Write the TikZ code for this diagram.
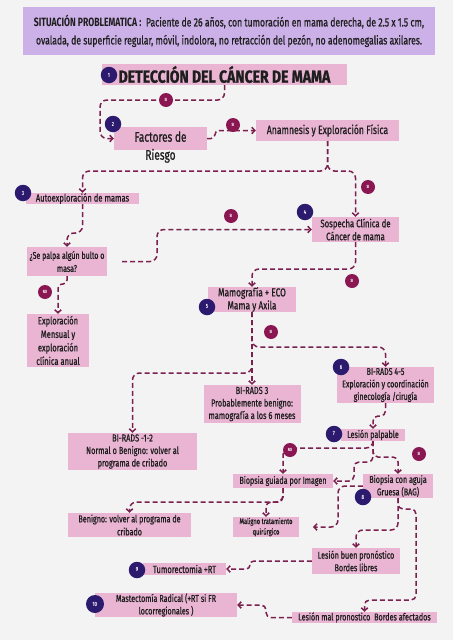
\documentclass[tikz,border=0pt]{standalone}
\usepackage{fontspec}
\setmainfont{Fira Sans}[FakeStretch=0.72, UprightFeatures={FakeBold=0.8}]
\newfontfamily\titlefont{Fira Sans}[FakeStretch=0.8, BoldFeatures={FakeBold=1.2}]
\usetikzlibrary{arrows.meta,calc}
\definecolor{bgc}{HTML}{F3F3F3}
\definecolor{hdrc}{HTML}{CBB1E7}
\definecolor{pinkc}{HTML}{E9B5D3}
\definecolor{navyc}{HTML}{2B1A6E}
\definecolor{maroonc}{HTML}{8A1652}
\definecolor{connc}{HTML}{7B1F4F}
\definecolor{txtc}{HTML}{1E1E1E}
\begin{document}
\begin{tikzpicture}[x=1pt,y=-1pt,
  pbox/.style={rectangle, fill=pinkc, inner sep=0pt, align=center, text=txtc},
  conn/.style={draw=connc, line width=1.5pt, dash pattern=on 5pt off 3pt, rounded corners=7pt,
     -{Straight Barb[length=3pt,width=6.5pt]}},
  numc/.style={circle, fill=navyc, text=white, minimum size=16.5pt, inner sep=0pt, font=\bfseries\fontsize{6}{6}\selectfont},
  sic/.style={circle, fill=maroonc, text=white, minimum size=14pt, inner sep=0pt, font=\bfseries\fontsize{4.5}{5}\selectfont},
  fa/.style={font=\fontsize{10}{12.5}\selectfont},
  fc/.style={font=\fontsize{12}{14}\selectfont}]
\useasboundingbox (0,0) rectangle (453,640);
\fill[bgc] (0,0) rectangle (453,640);

% header
\node[pbox, fill=hdrc, minimum width=412, minimum height=48, font=\fontsize{12}{18}\selectfont] (hdr) at (229,31)
 {\textbf{SITUACIÓN PROBLEMATICA :}\ \ Paciente de 26 años, con tumoración en mama derecha, de 2.5 x 1.5 cm,\\ ovalada, de superficie regular, móvil, indolora, no retracción del pezón, no adenomegalias axilares.};

% boxes
\node[pbox, minimum width=245, minimum height=21, font=\titlefont\bfseries\fontsize{17.5}{17.5}\selectfont] (title) at (224.5,74.5) {DETECCIÓN DEL CÁNCER DE MAMA};
\node[pbox, minimum width=93, minimum height=23] (fact) at (160.5,138.5) {};
\node[text=txtc, align=center, inner sep=0pt, font=\fontsize{14}{18}\selectfont] (factt) at (160.5,147) {Factores de\\Riesgo};
\node[pbox, fc, minimum width=143, minimum height=21] (anam) at (327.5,130.5) {Anamnesis y Exploración Física};
\node[pbox, font=\fontsize{10.5}{12}\selectfont, minimum width=113, minimum height=11] (auto) at (82.5,198.5) {Autoexploración de mamas};
\node[pbox, font=\fontsize{9.8}{13}\selectfont, minimum width=80, minimum height=29] (palpa) at (67,261.5) {¿Se palpa algún bulto o\\masa?};
\node[pbox, font=\fontsize{10.5}{13.5}\selectfont, minimum width=62, minimum height=53] (expl) at (58,340.5) {Exploración\\Mensual y\\exploración\\clínica anual};
\node[pbox, font=\fontsize{10.8}{13}\selectfont, minimum width=87, minimum height=25] (sosp) at (355.5,229.5) {Sospecha Clínica de\\Cáncer de mama};
\node[pbox, font=\fontsize{11.5}{13}\selectfont, minimum width=88, minimum height=25] (mamo) at (252,299.5) {Mamografía + ECO\\Mama y Axila};
\node[pbox, font=\fontsize{10.2}{12.5}\selectfont, minimum width=97, minimum height=38] (b3) at (252,404) {BI-RADS 3\\Probablemente benigno:\\mamografía a los 6 meses};
\node[pbox, font=\fontsize{10.2}{12.5}\selectfont, minimum width=129, minimum height=37] (b12) at (132.5,451.5) {BI-RADS -1-2\\Normal o Benigno: volver al\\programa de cribado};
\node[pbox, font=\fontsize{9.8}{12.5}\selectfont, minimum width=97, minimum height=36] (b45) at (385.5,385) {BI-RADS 4-5\\Exploración y coordinación\\ginecología /cirugía};
\node[pbox, fa, minimum width=64, minimum height=12] (lesp) at (373,435) {Lesión palpable};
\node[pbox, fa, minimum width=100, minimum height=14] (bg) at (283,481) {Biopsia guiada por Imagen};
\node[pbox, fa, minimum width=70, minimum height=24] (bag) at (398,486) {Biopsia con aguja\\Gruesa (BAG)};
\node[pbox, font=\fontsize{10}{13}\selectfont, minimum width=123, minimum height=24] (ben) at (129.5,525) {Benigno: volver al programa de\\cribado};
\node[pbox, font=\fontsize{8}{10.5}\selectfont, minimum width=66, minimum height=20] (mal) at (266,527) {Maligno tratamiento\\quirúrgico};
\node[pbox, fa, minimum width=88, minimum height=26] (lbuen) at (356,561) {Lesión buen pronóstico\\Bordes libres};
\node[pbox, font=\fontsize{10.5}{12}\selectfont, minimum width=83, minimum height=12] (tumo) at (184.5,569) {Tumorectomia +RT};
\node[pbox, fa, minimum width=142, minimum height=24] (mast) at (166,605) {Mastectomía Radical (+RT si FR\\locorregionales )};
\node[pbox, fa, minimum width=145, minimum height=11] (lmal) at (364.5,617.5) {Lesión mal pronostico\ \ Bordes afectados};

% connectors
\coordinate (qend) at (313,527);
\draw[conn] (title.south) -- (224.5,100) -- (100,100) -- (100,138.5) -- (fact.west);
\draw[conn, rounded corners=4pt] (fact.east) -- (215,138.5) -- (215,130.5) -- (anam.west);
\draw[conn] (anam.south) -- (327.5,171) -- (82.5,171) -- (auto.north);
\draw[conn] (anam.south) -- (327.5,171) -- (355.5,171) -- (sosp.north);
\draw[conn] (auto.south) -- (82.5,233) -- (67,233) -- (palpa.north);
\draw[conn] ($(palpa.east)+(15,0)$) -- (157,261.5) -- (157,229.5) -- (sosp.west);
\draw[conn, rounded corners=4pt] (palpa.south) -- (67,284) -- (58,284) -- (expl.north);
\draw[conn] (sosp.south) -- (355.5,269) -- (252,269) -- (mamo.north);
\draw[conn] (mamo.south) -- (252,347) -- (385.5,347) -- (b45.north);
\draw[conn] (mamo.south) -- (b3.north);
\draw[conn] (mamo.south) -- (252,373) -- (132.5,373) -- (b12.north);
\draw[conn, rounded corners=5pt] (b45.south) -- (385.5,416) -- (373,416) -- (lesp.north);
\draw[conn] (lesp.south) -- (373,448) -- (283,448) -- (bg.north);
\draw[conn, rounded corners=5pt] (lesp.south) -- (373,457) -- (398,457) -- (bag.north);
\draw[conn, rounded corners=5pt] (lesp.south) -- (373,462) -- (354,462) -- (354,481) -- (bg.east);
\draw[conn] (bg.south) -- (283,502) -- (129.5,502) -- (ben.north);
\draw[conn, rounded corners=5pt] (bg.south) -- (283,502) -- (266,502) -- (mal.north);
\draw[conn] (bag.west) -- (338,486) -- (338,527) -- (qend);
\draw[conn] (bag.south) -- (398,530) -- (356,530) -- (lbuen.north);
\draw[conn, rounded corners=5pt] (bag.south) -- (398,509) -- (416,509) -- (416,600) -- (364.5,600) -- (lmal.north);
\draw[conn, rounded corners=4pt] (lbuen.west) -- (250,561) -- (250,569) -- (tumo.east);
\draw[conn, rounded corners=5pt] (lmal.west) -- (266,617.5) -- (266,605) -- (mast.east);

% number circles
\node[numc] (n1) at (109,75) {1};
\node[numc] (n2) at (113,124) {2};
\node[numc] (n3) at (23,193) {3};
\node[numc] (n4) at (305,212) {4};
\node[numc] (n5) at (207,307) {5};
\node[numc] (n6) at (341,367) {6};
\node[numc] (n7) at (334,434) {7};
\node[numc] (n8) at (363,497) {8};
\node[numc] (n9) at (137,570) {9};
\node[numc, minimum size=18pt] (n10) at (95,604) {10};

% SI / NO circles
\node[sic] (s1) at (166,100) {SI};
\node[sic] (s2) at (233,125) {SI};
\node[sic] (s3) at (368,187) {SI};
\node[sic] (s4) at (231,216) {SI};
\node[sic] (s5) at (352,281) {SI};
\node[sic] (s6) at (271,332) {SI};
\node[sic] (o1) at (45,292) {NO};
\node[sic] (o2) at (290,450) {NO};
\node[sic] (s7) at (419,454) {SI};
\end{tikzpicture}
\end{document}
